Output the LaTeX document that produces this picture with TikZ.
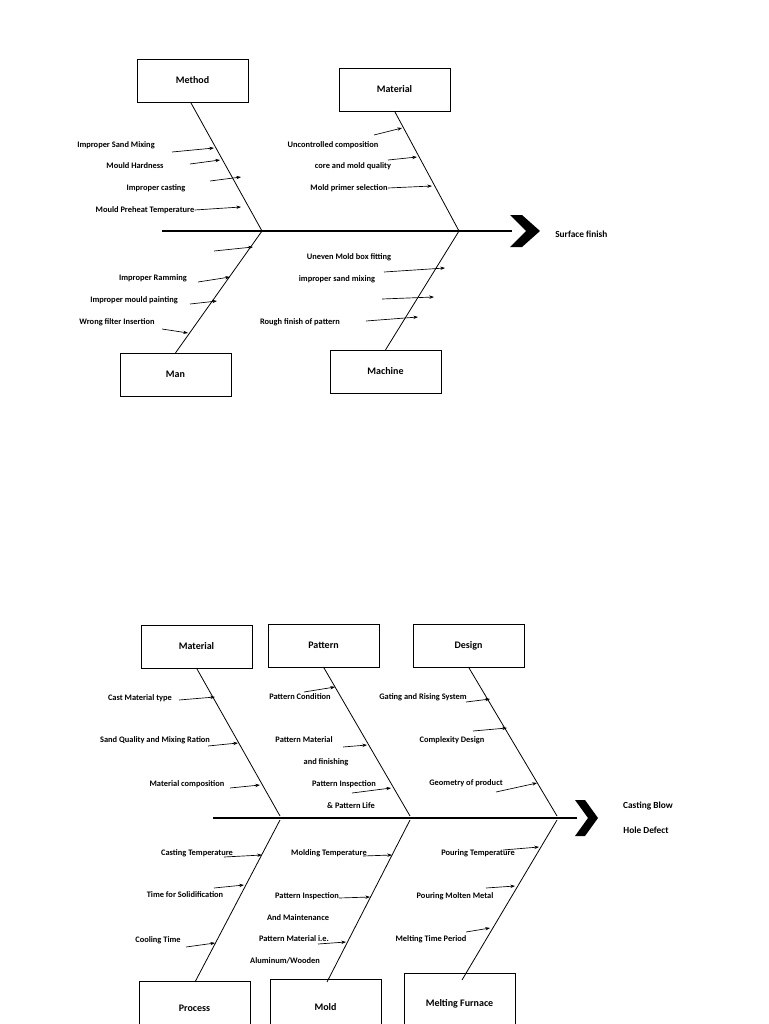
\documentclass[tikz,border=0pt]{standalone}
\usepackage{fontspec}
\setmainfont{Carlito}
\usetikzlibrary{arrows.meta}
\begin{document}
\begin{tikzpicture}[x=0.75pt,y=-0.75pt,
  box/.style={draw,thin,minimum width=83pt,minimum height=32pt,inner sep=0pt,font=\fontsize{7.5}{9}\selectfont\bfseries},
  lbl/.style={font=\fontsize{6.3}{7}\selectfont\bfseries,inner sep=0pt},
  bone/.style={line width=0.6pt},
  spine/.style={line width=1.8pt},
  ar/.style={-{Stealth[length=3.5pt,width=2.5pt]},line width=0.5pt},
  head/.style={fill=black}]
\useasboundingbox (0,0) rectangle (768,1024);
% ---------------- Diagram 1
\node[box] (meth) at (192.5,80.5) {Method};
\node[box] (mat1) at (394.5,89.5) {Material};
\node[box] (man) at (175.5,374.5) {Man};
\node[box] (mach) at (385.5,371.5) {Machine};
\coordinate (s1a) at (162,231); \coordinate (s1b) at (512,231);
\draw[spine] (s1a) -- (s1b);
\fill[head] (510,215) -- (522,215) -- (540,231) -- (522,247) -- (510,247) -- (526,231) -- cycle;
\node[lbl,anchor=west,font=\fontsize{7}{8}\selectfont\bfseries] (eff1) at (555,234) {Surface finish};
\coordinate (j1) at (262,231); \coordinate (j2) at (459,231);
\draw[bone] (meth.south) ++(-2,0) -- (j1);
\draw[bone] (mat1.south) -- (j2);
\draw[bone] (j1) -- (man.north);
\draw[bone] (j2) -- (mach.north) ++(15,0);
% method
\node[lbl] (t1) at (116,145) {Improper Sand Mixing};
\node[lbl] (t2) at (135,166) {Mould Hardness};
\node[lbl] (t3) at (156,188) {Improper casting};
\node[lbl] (t4) at (145,210) {Mould Preheat Temperature};
\draw[ar] (172,152) -- (214,148);
\draw[ar] (190,164) -- (220,160);
\draw[ar] (210,181) -- (241,177);
\draw[ar] (t4.east) -- (241,207);
% material
\node[lbl] (t5) at (333,145) {Uncontrolled composition};
\node[lbl] (t6) at (353,166) {core and mold quality};
\node[lbl] (t7) at (349,188) {Mold primer selection};
\draw[ar] (374,135) -- (402,128);
\draw[ar] (388,160) -- (417,157);
\draw[ar] (t7.east) -- (432,186);
% man
\node[lbl] (t8) at (153,278) {Improper Ramming};
\node[lbl] (t9) at (134,300) {Improper mould painting};
\node[lbl] (t10) at (117,322) {Wrong filter Insertion};
\draw[ar] (214,251) -- (253,247);
\draw[ar] (198,282) -- (230,277);
\draw[ar] (190,304) -- (217,301);
\draw[ar] (162,329) -- (188,333);
% machine
\node[lbl] (t11) at (349,257) {Uneven Mold box fitting};
\node[lbl] (t12) at (337,279) {improper sand mixing};
\node[lbl] (t13) at (300,322) {Rough finish of pattern};
\draw[ar] (384,272) -- (445,268);
\draw[ar] (382,299) -- (434,297);
\draw[ar] (366,321) -- (418,317);
% ---------------- Diagram 2
\node[box] (mat2) at (196.5,646.5) {Material};
\node[box] (pat) at (323.5,645.5) {Pattern};
\node[box] (des) at (468.5,645.5) {Design};
\node[box,minimum height=40pt] (proc) at (194.5,1008) {Process};
\node[box,minimum height=42pt] (mold) at (325.5,1007) {Mold};
\node[box,minimum height=46pt] (furn) at (459.5,1004) {Melting Furnace};
\coordinate (s2a) at (213,818); \coordinate (s2b) at (577,818);
\draw[spine] (s2a) -- (s2b);
\fill[head] (575,800) -- (585,800) -- (598,818) -- (585,836) -- (575,836) -- (588,818) -- cycle;
\node[lbl,font=\fontsize{7}{8}\selectfont\bfseries] (eff2a) at (648,806) {Casting Blow};
\node[lbl,font=\fontsize{7}{8}\selectfont\bfseries] (eff2b) at (646,830) {Hole Defect};
\coordinate (k1) at (280,816); \coordinate (k2) at (410,816); \coordinate (k3) at (557,816);
\coordinate (k1b) at (280,820); \coordinate (k2b) at (410,820); \coordinate (k3b) at (557,820);
\draw[bone] (mat2.south) -- (k1);
\draw[bone] (pat.south) -- (k2);
\draw[bone] (des.south) -- (k3);
\draw[bone] (k1b) -- (195,982);
\draw[bone] (k2b) -- (327,982);
\draw[bone] (k3b) -- (462,980);
% material
\node[lbl] (u1) at (140,698) {Cast Material type};
\node[lbl] (u2) at (155,740) {Sand Quality and Mixing Ration};
\node[lbl] (u3) at (187,784) {Material composition};
\draw[ar] (179,700) -- (215,697);
\draw[ar] (208,746) -- (238,743);
\draw[ar] (230,788) -- (260,785);
% pattern
\node[lbl] (u4) at (300,697) {Pattern Condition};
\node[lbl] (u5) at (304,740) {Pattern Material};
\node[lbl] (u6) at (326,762) {and finishing};
\node[lbl] (u7) at (344,784) {Pattern Inspection};
\node[lbl] (u8) at (351,806) {\& Pattern Life};
\draw[ar] (304,692) -- (335,687);
\draw[ar] (343,747) -- (367,745);
\draw[ar] (352,793) -- (391,788);
% design
\node[lbl] (u9) at (423,697) {Gating and Rising System};
\node[lbl] (u10) at (452,740) {Complexity Design};
\node[lbl] (u11) at (466,783) {Geometry of product};
\draw[ar] (466,702) -- (490,699);
\draw[ar] (473,731) -- (507,728);
\draw[ar] (496,792) -- (537,783);
% process
\node[lbl] (v1) at (197,853) {Casting Temperature};
\node[lbl] (v2) at (185,895) {Time for Solidification};
\node[lbl] (v3) at (158,940) {Cooling Time};
\draw[ar] (224,857) -- (262,855);
\draw[ar] (214,888) -- (244,885);
\draw[ar] (186,947) -- (215,943);
% mold
\node[lbl] (v4) at (329,853) {Molding Temperature};
\node[lbl] (v5) at (307,896) {Pattern Inspection};
\node[lbl] (v6) at (298,918) {And Maintenance};
\node[lbl] (v7) at (294,939) {Pattern Material i.e.};
\node[lbl] (v8) at (285,961) {Aluminum/Wooden};
\draw[ar] (363,856) -- (392,855);
\draw[ar] (339,898) -- (370,897);
\draw[ar] (318,944) -- (346,942);
% furnace
\node[lbl] (v9) at (478,853) {Pouring Temperature};
\node[lbl] (v10) at (455,896) {Pouring Molten Metal};
\node[lbl] (v11) at (431,939) {Melting Time Period};
\draw[ar] (503,850) -- (539,847);
\draw[ar] (486,888) -- (515,886);
\draw[ar] (466,932) -- (490,928);
\end{tikzpicture}
\end{document}
